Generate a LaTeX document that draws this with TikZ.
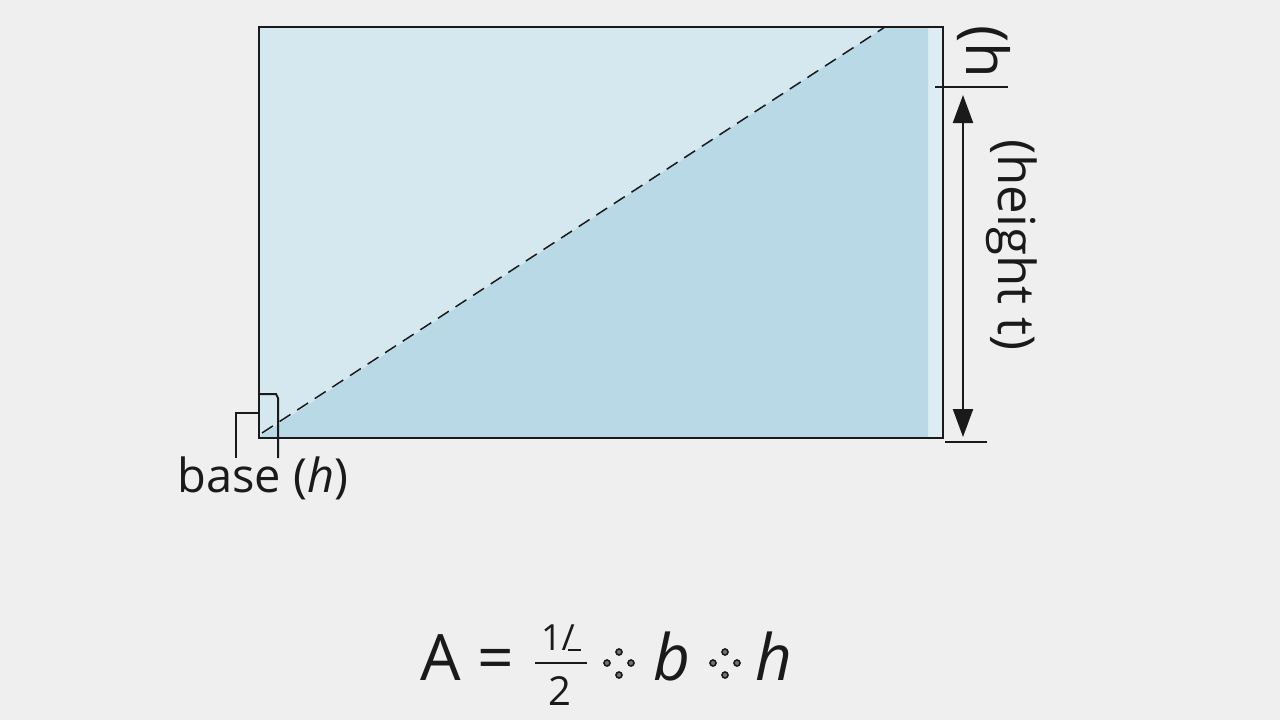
\documentclass[tikz,border=0pt]{standalone}
\usepackage{fontspec}
\setmainfont{Open Sans}
\usetikzlibrary{arrows.meta}
\definecolor{bg}{HTML}{EFEFEF}
\definecolor{lightfill}{HTML}{D5E7EF}
\definecolor{darkfill}{HTML}{B9D9E6}
\definecolor{stripfill}{HTML}{DDEDF3}
\definecolor{ink}{HTML}{1A1A1A}
\tikzset{
  outline/.style={draw=ink, line width=2.2pt},
  thinline/.style={draw=ink, line width=2pt},
  diag/.style={draw=ink, line width=1.5pt, dash pattern=on 13pt off 8pt},
  lbl/.style={inner sep=0pt, text=ink, font=\fontsize{47}{50}\selectfont},
  frm/.style={inner sep=0pt, text=ink, font=\fontsize{64}{70}\selectfont},
  dimarrow/.style={draw=ink, line width=2.2pt, {Triangle[width=20pt,length=28pt]}-{Triangle[width=20pt,length=28pt]}},
  dot/.style={fill=ink, draw=ink},
}
\begin{document}
\begin{tikzpicture}[x=1pt,y=-1pt]
\fill[bg] (0,0) rectangle (1280,720);
\useasboundingbox (0,0) rectangle (1280,720);
% fills
\fill[lightfill] (258,26) rectangle (942,437);
\fill[stripfill] (928,26) rectangle (942,437);
\fill[darkfill] (262,435) -- (885,27) -- (928,27) -- (928,437) -- (258,437) -- cycle;
% diagonal
\coordinate (d1) at (262,433);
\coordinate (d2) at (885,27);
\draw[diag] (d1) -- (d2);
% rectangle outline
\node[outline, minimum width=684pt, minimum height=411pt, inner sep=0pt, anchor=north west] (rect) at (258,26) {};
% right-angle marker and bracket
\draw[thinline] (258,394) -- (276,394) -- (278,398) -- (278,458);
\draw[thinline] (236,458) -- (236,413) -- (258,413);
% dimension arrow and ticks
\coordinate (atop) at (963,95);
\coordinate (abot) at (963,437);
\draw[dimarrow] (atop) -- (abot);
\coordinate (t1a) at (935,87);
\coordinate (t1b) at (1008,87);
\draw[thinline] (t1a) -- (t1b);
\coordinate (t2a) at (945,442);
\coordinate (t2b) at (987,442);
\draw[thinline] (t2a) -- (t2b);
% labels
\node[lbl, anchor=base] (base) at (263,492) {base (\textit{h})};
\node[inner sep=0pt, text=ink, font=\fontsize{51}{54}\selectfont, rotate=-90] (height) at (1012,245) {(height t)};
\node[inner sep=0pt, text=ink, font=\fontsize{58}{60}\selectfont, rotate=-90] (toplbl) at (984,52) {(h};
% formula
\node[frm, anchor=base west] (A) at (420,680) {A};
\node[frm, anchor=base] (eq) at (496,680) {=};
\node[inner sep=0pt, text=ink, font=\fontsize{36}{40}\selectfont, anchor=base] (num) at (558,650) {1/};
\draw[ink, line width=1.5pt] (568,650) -- (581,650);
\draw[ink, line width=2pt] (535,663) -- (587,663);
\node[inner sep=0pt, text=ink, font=\fontsize{40}{44}\selectfont, anchor=base] (den) at (560,705) {2};
\foreach \p in {(607,663),(631,663),(619,652),(619,675),(713,663),(737,663),(725,652),(725,675)}
  \draw[ink, line width=1.6pt, fill=ink!60] \p circle (3pt);
\node[frm, anchor=base] (b) at (672,680) {\textit{b}};
\node[frm, anchor=base] (h) at (774,680) {\textit{h}};
\end{tikzpicture}
\end{document}
